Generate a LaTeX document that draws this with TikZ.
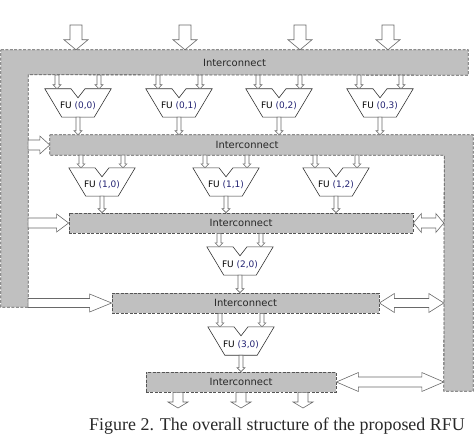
\documentclass[tikz,border=0pt]{standalone}
\usepackage{fontspec}
\setmainfont{Liberation Serif}
\newfontfamily\dejavu{DejaVu Sans}
\usetikzlibrary{calc,backgrounds}

\definecolor{busgray}{RGB}{192,192,192}
\definecolor{edgegray}{RGB}{85,85,85}
\definecolor{arrowgray}{RGB}{105,105,105}
\definecolor{fublue}{RGB}{35,35,115}
\definecolor{textgray}{RGB}{40,40,40}

% hollow arrow: from, to, half shaft, half head, head length
\newcommand{\hollowarrow}[5]{%
  \coordinate (hb) at ($(#2)!#5!(#1)$);
  \draw[hollow] ($(#1)!#3!90:(#2)$) -- ($(hb)!#3!90:(#2)$) -- ($(hb)!#4!90:(#2)$) -- (#2)
    -- ($(hb)!#4!-90:(#2)$) -- ($(hb)!#3!-90:(#2)$) -- ($(#1)!#3!-90:(#2)$) -- cycle;
}
% hollow arrow with a head at both ends
\newcommand{\hollowdouble}[5]{%
  \coordinate (ha) at ($(#1)!#5!(#2)$);
  \coordinate (hb) at ($(#2)!#5!(#1)$);
  \draw[hollow] (#1) -- ($(ha)!#4!90:(#2)$) -- ($(ha)!#3!90:(#2)$) -- ($(hb)!#3!90:(#2)$)
    -- ($(hb)!#4!90:(#2)$) -- (#2) -- ($(hb)!#4!-90:(#2)$) -- ($(hb)!#3!-90:(#2)$)
    -- ($(ha)!#3!-90:(#2)$) -- ($(ha)!#4!-90:(#2)$) -- cycle;
}

\begin{document}
\begin{tikzpicture}[x=1bp, y=-1bp]
    \tikzstyle{hollow}=[draw=arrowgray, fill=white, line width=0.6pt, line join=miter]
    \tikzstyle{busline}=[fill=busgray, draw=edgegray, line width=0.8pt, dash pattern=on 3pt off 1.5pt]
    \tikzstyle{buslabel}=[inner sep=0pt, text=textgray, font=\dejavu\fontsize{10}{12}\selectfont]
    \tikzstyle{bus}=[buslabel, busline]
    \tikzstyle{fu}=[inner sep=0pt, minimum width=66bp, minimum height=28bp, text height=12bp, text depth=0pt, font=\dejavu\fontsize{9}{10}\selectfont]
    \tikzstyle{fuline}=[draw=black!80, fill=white, line width=0.6pt, line join=miter]

    \useasboundingbox (0,0) rectangle (474,436);

    % Draw the interconnect layers
    \node[buslabel, minimum width=467bp, minimum height=25bp] (ic0) at (234.5,62.5) {Interconnect};
    \node[buslabel, minimum width=27bp, minimum height=232bp] (lbar) at (14.5,191) {};
    \node[buslabel, minimum width=394bp, minimum height=20bp] (ic1) at (247,145) {Interconnect};
    \node[buslabel, minimum width=29bp, minimum height=256bp] (rbar) at (458.5,263) {};
    \node[bus, minimum width=344bp, minimum height=20bp] (ic2) at (241,223) {Interconnect};
    \node[bus, minimum width=267bp, minimum height=20bp] (ic3) at (245.5,303) {Interconnect};
    \node[bus, minimum width=190bp, minimum height=20bp] (ic4) at (241,382) {Interconnect};

    % The two bent buses behind the labels
    \begin{scope}[on background layer]
        \draw[busline] (ic0.north west) -- (ic0.north east) -- (ic0.south east)
            -- (lbar.north east) -- (lbar.south east) -- (lbar.south west) -- cycle;
        \draw[busline] (ic1.north west) -- (rbar.north east) -- (rbar.south east)
            -- (rbar.south west) -- (ic1.south east) -- (ic1.south west) -- cycle;
    \end{scope}

    % Draw the function units with their inputs and outputs
    \foreach \name/\x/\y/\lab/\src/\dst in {00/78/103/{(0,0)}/ic0/ic1, 01/179/103/{(0,1)}/ic0/ic1,
            02/279/103/{(0,2)}/ic0/ic1, 03/380/103/{(0,3)}/ic0/ic1,
            10/102/182/{(1,0)}/ic1/ic2, 11/226/182/{(1,1)}/ic1/ic2, 12/336/182/{(1,2)}/ic1/ic2,
            20/240/261/{(2,0)}/ic2/ic3, 30/241/341/{(3,0)}/ic3/ic4} {
        \node[fu] (F\name) at (\x,\y) {FU \textcolor{fublue}{\lab}};
        \begin{scope}[on background layer]
            \draw[fuline] (F\name.north west) -- ($(F\name.north)+(-7,0)$) -- ($(F\name.north)+(0,9)$)
                -- ($(F\name.north)+(7,0)$) -- (F\name.north east) -- ($(F\name.south east)+(-17,0)$)
                -- ($(F\name.south west)+(17,0)$) -- cycle;
        \end{scope}
        \coordinate (F\name-a) at ($(F\name.north)+(-21,0)$);
        \coordinate (F\name-b) at ($(F\name.north)+(21,0)$);
        \hollowarrow{\src.south -| F\name-a}{F\name-a}{2bp}{4bp}{4bp}
        \hollowarrow{\src.south -| F\name-b}{F\name-b}{2bp}{4bp}{4bp}
        \hollowarrow{F\name.south}{\dst.north -| F\name.south}{2bp}{4bp}{4bp}
    }

    % Inputs from the top, outputs at the bottom
    \foreach \i/\x in {1/76,2/185,3/300,4/388} {
        \coordinate (t\i) at (\x,25);
        \hollowarrow{t\i}{ic0.north -| t\i}{6bp}{12bp}{10bp}
    }
    \foreach \i/\x in {1/178,2/241,3/303} {
        \coordinate (o\i) at (\x,408);
        \hollowarrow{ic4.south -| o\i}{o\i}{5bp}{10bp}{6bp}
    }

    % Links from the side buses
    \hollowarrow{lbar.east |- ic1.west}{ic1.west}{5bp}{9bp}{10bp}
    \hollowarrow{lbar.east |- ic2.west}{ic2.west}{5bp}{9bp}{12bp}
    \hollowarrow{lbar.east |- ic3.west}{ic3.west}{4.5bp}{9bp}{22bp}
    \hollowdouble{ic2.east}{rbar.west |- ic2.east}{5bp}{9.5bp}{8bp}
    \hollowdouble{ic3.east}{rbar.west |- ic3.east}{4.5bp}{9.5bp}{15bp}
    \hollowdouble{ic4.east}{rbar.west |- ic4.east}{5bp}{9.5bp}{22bp}

    % Caption
    \node[anchor=base, inner sep=0pt, text=textgray, font=\fontsize{18}{20}\selectfont] (caption) at (277,430.5)
        {Figure 2. The overall structure of the proposed RFU};
\end{tikzpicture}
\end{document}
